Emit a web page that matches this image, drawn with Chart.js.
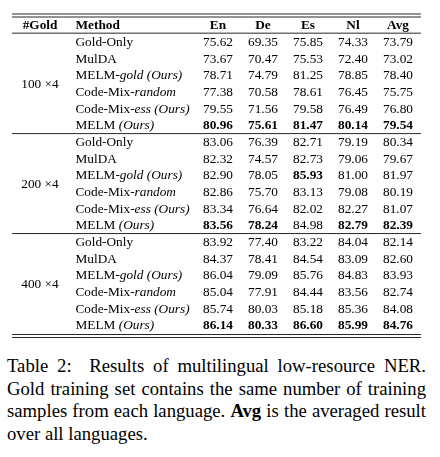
<!DOCTYPE html>
<html>
<head>
<meta charset="utf-8">
<script src="https://cdn.jsdelivr.net/npm/chart.js@4"></script>
<style>
  html, body { margin: 0; padding: 0; background: #fff; }
  #wrap { position: relative; width: 440px; height: 457px; }
  #chart { position: absolute; left: 0; top: 0; }
  #caption {
    position: absolute; left: 7px; top: 355px; width: 419px;
    font-family: "Liberation Serif", serif; font-size: 18.7px; line-height: 22.6px; color: #000;
  }
  #caption div { white-space: nowrap; text-align: justify; text-align-last: justify; }
  #caption div.last { text-align-last: left; }
</style>
</head>
<body>
<div id="wrap">
  <canvas id="chart" width="440" height="350"></canvas>
  <div id="caption">
    <div>Table 2:&nbsp; Results of multilingual low-resource NER.</div>
    <div>Gold training set contains the same number of training</div>
    <div>samples from each language. <b>Avg</b> is the averaged result</div>
    <div class="last">over all languages.</div>
  </div>
</div>
<script>
// Table data ==========================
const languages = ["En", "De", "Es", "Nl", "Avg"];
const goldSizes = ["100 ×4", "200 ×4", "400 ×4"];
const methodNames = ["Gold-Only", "MulDA", "MELM-", "Code-Mix-", "Code-Mix-", "MELM "];
const methodItalics = ["", "", "gold (Ours)", "random", "ess (Ours)", "(Ours)"];

const enScores  = [75.62, 73.67, 78.71, 77.38, 79.55, 80.96, 83.06, 82.32, 82.90, 82.86, 83.34, 83.56, 83.92, 84.37, 86.04, 85.04, 85.74, 86.14];
const deScores  = [69.35, 70.47, 74.79, 70.58, 71.56, 75.61, 76.39, 74.57, 78.05, 75.70, 76.64, 78.24, 77.40, 78.41, 79.09, 77.91, 80.03, 80.33];
const esScores  = [75.85, 75.53, 81.25, 78.61, 79.58, 81.47, 82.71, 82.73, 85.93, 83.13, 82.02, 84.98, 83.22, 84.54, 85.76, 84.44, 85.18, 86.60];
const nlScores  = [74.33, 72.40, 78.85, 76.45, 76.49, 80.14, 79.19, 79.06, 81.00, 79.08, 82.27, 82.79, 84.04, 83.09, 84.83, 83.56, 85.36, 85.99];
const avgScores = [73.79, 73.02, 78.40, 75.75, 76.80, 79.54, 80.34, 79.67, 81.97, 80.19, 81.07, 82.39, 82.14, 82.60, 83.93, 82.74, 84.08, 84.76];

const columns = [enScores, deScores, esScores, nlScores, avgScores];
const perGroup = methodNames.length;

// best value of each column inside a gold-size group is bold
function isBest(values, i) {
    const g = Math.floor(i / perGroup);
    const slice = values.slice(g * perGroup, (g + 1) * perGroup);
    return values[i] === Math.max(...slice);
}

// Drawing ==========================
const FONT = '"Liberation Serif", serif';
const SIZE = 13.3;

const tablePlugin = {
    id: "tableText",
    afterDatasetsDraw(chart) {
        const ctx = chart.ctx;
        const xs = chart.scales.x;
        const ys = chart.scales.y;
        const left = 12, right = 421;
        const rowH = ys.getPixelForValue(1) - ys.getPixelForValue(0);

        ctx.save();
        ctx.strokeStyle = "#111";
        ctx.lineWidth = 0.9;
        const rule = y => {
            ctx.beginPath();
            ctx.moveTo(left, y);
            ctx.lineTo(right, y);
            ctx.stroke();
        };
        const topY = ys.getPixelForValue(-1.5);
        const botY = ys.getPixelForValue(methodNames.length * goldSizes.length - 0.5);
        rule(topY - 2.5);
        rule(topY + 0.5);
        rule(ys.getPixelForValue(-0.5));
        for (let g = 1; g < goldSizes.length; g++) rule(ys.getPixelForValue(g * perGroup - 0.5) + 0.5);
        rule(botY + 1.5);
        rule(botY + 4.5);

        ctx.fillStyle = "#000";
        ctx.textBaseline = "alphabetic";
        const base = v => ys.getPixelForValue(v) + 4.6;
        const methodX = xs.left - 120;
        const goldX = 40;

        // header
        ctx.font = `bold ${SIZE}px ${FONT}`;
        ctx.textAlign = "center";
        ctx.fillText("#Gold", goldX, base(-1));
        xs.getLabels().forEach((lab, i) => ctx.fillText(lab, xs.getPixelForValue(i), base(-1)));
        ctx.textAlign = "left";
        ctx.fillText("Method", methodX, base(-1));

        // gold size groups
        ctx.font = `${SIZE}px ${FONT}`;
        ctx.textAlign = "center";
        goldSizes.forEach((g, k) => {
            ctx.fillText(g, goldX, base(k * perGroup + (perGroup - 1) / 2));
        });

        // method names
        ctx.textAlign = "left";
        goldSizes.forEach((g, k) => {
            methodNames.forEach((m, j) => {
                const y = base(k * perGroup + j);
                ctx.font = `${SIZE}px ${FONT}`;
                ctx.fillText(m, methodX, y);
                const w = ctx.measureText(m).width;
                ctx.font = `italic ${SIZE}px ${FONT}`;
                ctx.fillText(methodItalics[j], methodX + w, y);
            });
        });

        // score cells
        ctx.textAlign = "center";
        chart.data.datasets.forEach((ds, d) => {
            const meta = chart.getDatasetMeta(d);
            meta.data.forEach((pt, i) => {
                const vals = columns[d];
                ctx.font = (isBest(vals, i) ? "bold " : "") + `${SIZE}px ${FONT}`;
                ctx.fillText(vals[i].toFixed(2), pt.x, pt.y + 4.6);
            });
        });
        ctx.restore();
    }
};

const ctx = document.getElementById("chart").getContext("2d");

new Chart(ctx, {
    type: "line",
    data: {
        labels: languages,
        datasets: columns.map((vals, c) => ({
            label: languages[c],
            data: vals.map((v, i) => ({ x: languages[c], y: i })),
            showLine: false,
            pointRadius: 0
        }))
    },
    options: {
        responsive: false,
        animation: false,
        events: [],
        layout: { padding: { top: 16.5, bottom: 17, left: 195.5, right: 19.5 } },
        plugins: { legend: { display: false }, tooltip: { enabled: false } },
        scales: {
            x: { type: "category", offset: true, display: false },
            y: { type: "linear", min: -1.5, max: 17.5, reverse: true, display: false }
        }
    },
    plugins: [tablePlugin]
});
</script>
</body>
</html>
